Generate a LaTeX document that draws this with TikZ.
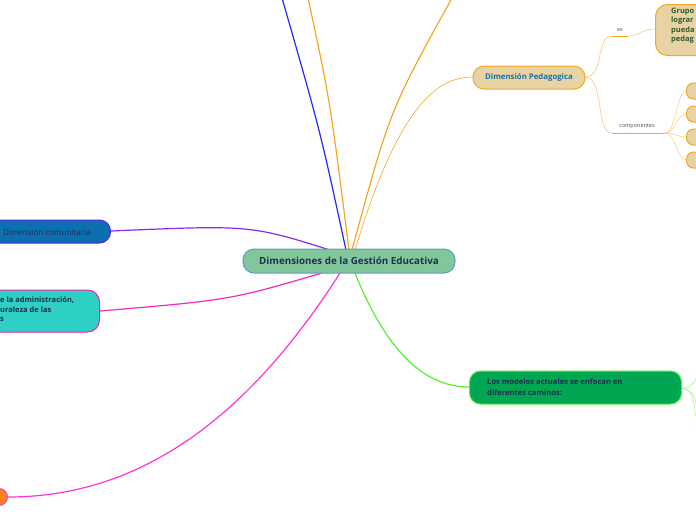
\documentclass[tikz,border=0pt]{standalone}
\usepackage{fontspec}
\setmainfont{Open Sans}
\definecolor{cmint}{HTML}{82C79C}
\definecolor{cnavy}{HTML}{1F3050}
\definecolor{cbeige}{HTML}{E8D3A5}
\definecolor{corange}{HTML}{F5A623}
\definecolor{cblue}{HTML}{1A6FA8}
\definecolor{cteal}{HTML}{2ECFC4}
\definecolor{cdblue}{HTML}{0C6FAF}
\definecolor{cgreen}{HTML}{00A651}
\definecolor{clgreen}{HTML}{55EE33}
\definecolor{cpurple}{HTML}{8A2BE2}
\definecolor{cmag}{HTML}{FF33DD}
\definecolor{cdgreen}{HTML}{2E5A2E}
\tikzset{
  box/.style={rounded corners=11pt, line width=1pt, inner sep=0pt},
  lbl/.style={font=\fontsize{5.5}{6}\selectfont, text=black!70, inner sep=0pt},
  conn/.style={line width=1.2pt},
}
\begin{document}
\begin{tikzpicture}[x=1pt,y=-1pt]
\useasboundingbox (0,0) rectangle (696,520);
\clip (0,0) rectangle (696,520);
% connectors
\coordinate (c) at (348,249);
\coordinate (tb) at (282,-2);
\coordinate (to1) at (308,-2);
\coordinate (to2) at (452,-2);
\draw[conn, blue!85] (346,250) .. controls (320,130) .. (tb);
\draw[conn, corange] (349,250) .. controls (330,100) .. (to1);
\draw[conn, corange] (352,250) .. controls (390,110) .. (to2);
\draw[line width=0.6pt, corange] (355,250) .. controls (400,100) and (440,77) .. (473,77);
\draw[conn, cpurple] (330,250) .. controls (250,225) .. (111,231);
\draw[conn, cmag!80!purple] (322,273) .. controls (230,300) .. (100,311);
\draw[conn, cmag] (340,273) .. controls (240,430) and (130,497) .. (8,497);
\draw[conn, clgreen] (355,273) .. controls (390,360) and (430,387) .. (469,387);
% pedagogica children
\draw[line width=0.5pt, corange!70] (585,77) .. controls (605,77) and (595,36) .. (612,36);
\draw[line width=0.5pt, corange!70] (585,77) .. controls (605,77) and (595,133) .. (612,133);
\draw[line width=1pt, corange] (612,36) -- (628,36);
\draw[line width=1pt, corange] (612,133) -- (665,133);
\draw[line width=0.5pt, corange!70] (628,36) .. controls (640,36) and (642,29) .. (655,29);
\foreach \y in {91,114,137,160}{
  \draw[line width=0.5pt, corange!60] (665,133) .. controls (676,133) and (676,\y) .. (687,\y);
}
\node[lbl, anchor=base] (les) at (620,31) {es};
\node[lbl, anchor=base] (lcomp) at (637,127.5) {componentes};
% green children
\draw[line width=0.6pt, clgreen!60] (681,388) .. controls (690,388) .. (698,376);
\draw[line width=0.6pt, clgreen!50] (681,388) .. controls (692,390) .. (698,430);
\draw[line width=0.6pt, clgreen!50] (681,388) .. controls (694,392) .. (698,415);
% nodes
\node[box, draw=cblue!70, fill=cmint, minimum width=212pt, minimum height=24pt, font=\bfseries\fontsize{9.8}{11}\selectfont, text=cnavy] (center) at (349,261) {Dimensiones de la Gestión Educativa};
\node[box, draw=corange, fill=cbeige, minimum width=112pt, minimum height=23pt, font=\bfseries\fontsize{7.8}{9}\selectfont, text=cblue] (ped) at (529,77.5) {Dimensión Pedagogica};
\node[box, draw=corange, fill=cbeige, rounded corners=12pt, minimum width=60pt, minimum height=51pt, anchor=north west] (grupo) at (655,4) {};
\node[anchor=north west, align=left, font=\bfseries\fontsize{7.5}{9.3}\selectfont, text=cdgreen, inner sep=0pt] (grupot) at (671,8) {Grupo\\lograr\\pueda\\pedag};
\foreach \y [count=\i] in {91,114,137,160}{
  \node[box, draw=corange, fill=cbeige, rounded corners=7pt, minimum width=30pt, minimum height=16pt, anchor=west] (k\i) at (686,\y) {};
}
\node[box, draw=cpurple!70!blue, fill=cdblue, minimum width=140pt, minimum height=23pt, anchor=east] (com) at (111,231.5) {};
\node[anchor=west, font=\fontsize{8}{9}\selectfont, text=cnavy, inner sep=0pt] (comt) at (3,232) {Dimensión comunitaria};
\node[box, draw=cmag!70!purple, fill=cteal, rounded corners=12pt, minimum width=140pt, minimum height=42pt, anchor=east] (adm) at (100,311) {};
\node[anchor=north west, align=left, font=\bfseries\fontsize{7.5}{9.3}\selectfont, text=cnavy, inner sep=0pt] (admt) at (0,297) {e la administración,\\uraleza de las\\s};
\node[circle, draw=cmag, fill=corange!80!red, line width=1pt, minimum size=17pt, inner sep=0pt] (orc) at (-1,497) {};
\node[box, draw=clgreen, fill=cgreen, minimum width=212pt, minimum height=33pt, anchor=west] (mod) at (469,387.5) {};
\node[anchor=north west, align=left, font=\bfseries\fontsize{7.6}{11}\selectfont, text=cnavy, inner sep=0pt] (modt) at (487,378) {Los modelos actuales se enfocan en\\diferentes caminos:};
\end{tikzpicture}
\end{document}
